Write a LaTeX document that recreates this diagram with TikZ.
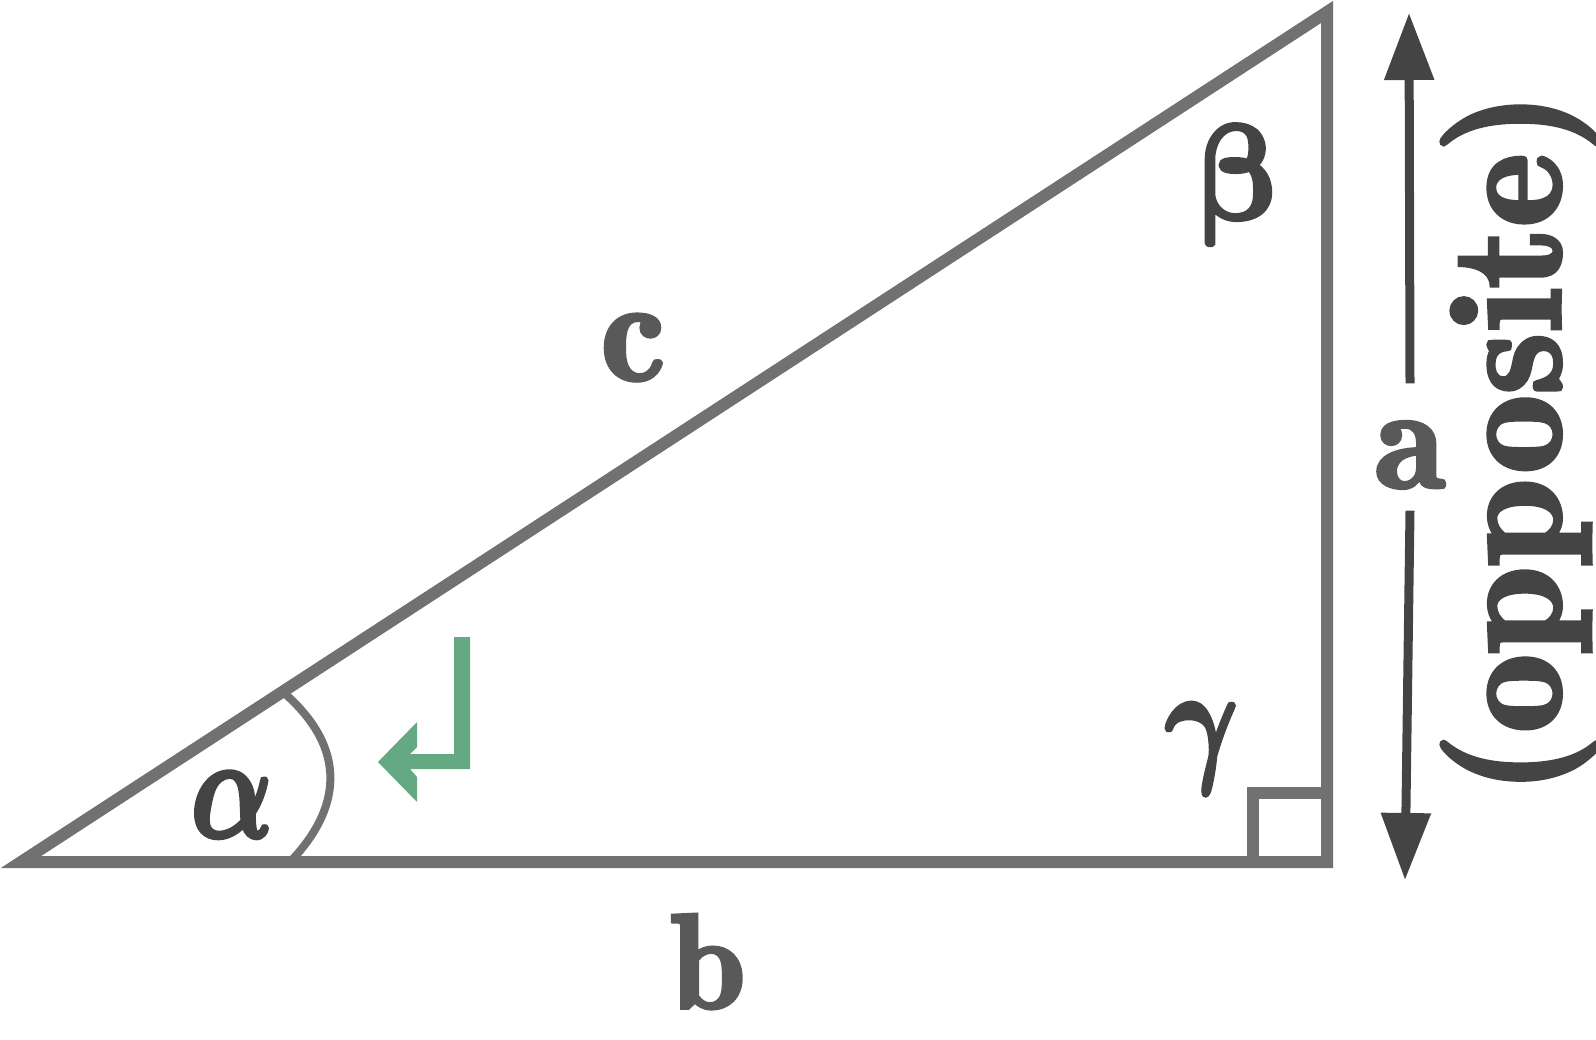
\documentclass[tikz,border=0pt]{standalone}
\usepackage{fontspec}
\newfontfamily\demifont[FakeBold=2.6]{lmromandemi10-regular.otf}
\newfontfamily\greekfont[FakeBold=3]{latinmodern-math.otf}
\usetikzlibrary{positioning,calc,arrows.meta}
\definecolor{edgegray}{HTML}{717171}
\definecolor{inkgray}{HTML}{444444}
\definecolor{lblgray}{HTML}{595959}
\definecolor{hintgreen}{HTML}{65A982}
\newcommand{\bigbold}[1]{\fontsize{#1}{#1}\demifont}
\newcommand{\biggreek}[1]{\fontsize{#1}{#1}\greekfont}
\tikzset{side/.style={draw=edgegray,line width=12pt,line join=miter},
  lbl/.style={text=lblgray,font=\bigbold{145},inner sep=0pt,anchor=base},
  ang/.style={lbl,text=inkgray},
  greek/.style={ang,font=\biggreek{#1}}}

\tikzset{dimarrow/.style={draw=inkgray,line width=9pt,-{Triangle[width=48pt,length=67pt]}}}

\begin{document}
\begin{tikzpicture}[x=1pt,y=-1pt]
  \useasboundingbox (0,0) rectangle (1596,1040);

  % the triangle
  \coordinate (A) at (21,862);
  \coordinate (B) at (1327,862);
  \coordinate (C) at (1327,12);
  \draw[side] (A) -- (B) -- (C) -- cycle;

  % right angle mark + arc at alpha
  \draw[side] ($(B)+(-74,0)$) |- ($(B)+(0,-69.5)$);
  \draw[edgegray,line width=8pt] ($(A)+(269,0)$) .. controls ($(A)+(319,-52)$) and ($(A)+(329,-112)$) .. ($(A)+(262,-170)$);

  % green return arrow
  \fill[hintgreen] (454,637) -- (470,637) -- (470,769) -- (410,769) -- (417,777) -- (417,802)
    -- (378,762) -- (417,722) -- (417,747) -- (410,754) -- (454,754) -- cycle;

  % side and angle labels
  \node[lbl] (c) at (633,380) {c};
  \node[lbl,font=\bigbold{135}] (b) at (708,1008) {b};
  \node[greek=145,xscale=0.75] (alpha) at (232,837) {𝜶};
  \node[greek=135] (beta) at (1238,219) {𝛃};
  \node[greek=140,xscale=0.8] (gamma) at (1198,766) {𝜸};

  % side a with its double arrow
  \node[lbl,anchor=center,minimum height=127pt] (a) at (1410,455) {a};
  \coordinate (atop) at (1409,13);
  \coordinate (abot) at (1405,880);
  \draw[dimarrow] ([yshift=8pt]a.north) -- (atop);
  \draw[dimarrow] ([yshift=8pt]a.south) -- (abot);
  \node[ang,font=\bigbold{158},rotate=90] (opp) at (1560,443) {(opposite)};
\end{tikzpicture}
\end{document}
